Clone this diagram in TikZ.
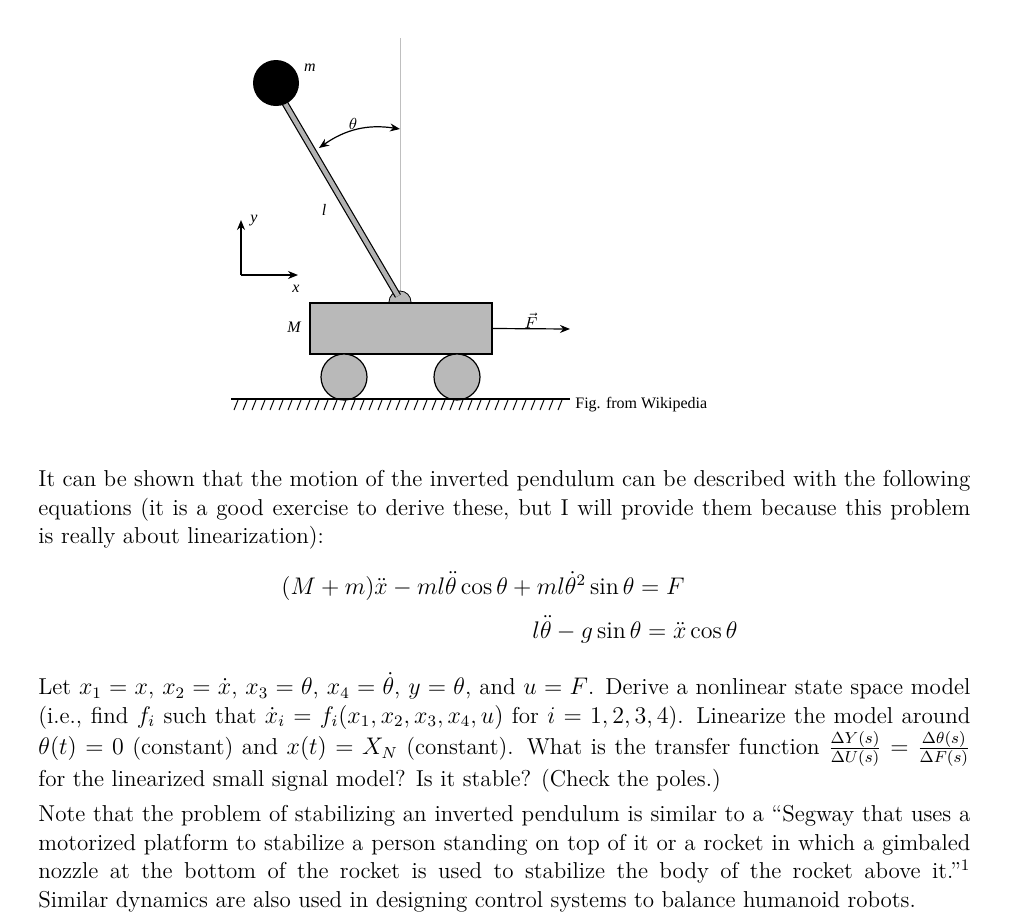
\documentclass[tikz,border=0pt]{standalone}
\usepackage{fontspec}
\usepackage{amsmath}
\newfontfamily\figfont{Liberation Serif}
\usetikzlibrary{arrows.meta}
\begin{document}
\begin{tikzpicture}[x=0.5pt,y=-0.5pt,
  lbl/.style={font=\figfont\itshape\fontsize{8}{9}\selectfont, inner sep=0},
  par/.style={anchor=north west, text width=466pt, align=justify, inner sep=0, font=\fontsize{11.5}{14.3}\selectfont},
  arr/.style={-{Stealth[length=5pt,width=4pt]}, line width=0.6pt}]
\useasboundingbox (0,0) rectangle (1024,922);
% vertical reference
\draw[gray!50, line width=0.5pt] (400,38) -- (400,297);
% pivot
\node[circle, draw, fill=gray!55, line width=0.4pt, minimum size=11pt, inner sep=0] (piv) at (400,302) {};
% rod
\coordinate (rtop) at (283,100);
\coordinate (rbot) at (398,296);
\draw[line width=3.4pt, black] (rtop) -- (rbot);
\draw[line width=2.2pt, gray!60] (rtop) -- (rbot);
% ball
\node[circle, fill=black, minimum size=23pt, inner sep=0] (ball) at (276,83) {};
% cart
\node[draw, fill=gray!55, line width=0.6pt, minimum width=91pt, minimum height=25.5pt, inner sep=0] (cart) at (401,328.5) {};
\node[circle, draw, fill=gray!55, line width=0.6pt, minimum size=23pt, inner sep=0] (w1) at (344,377) {};
\node[circle, draw, fill=gray!55, line width=0.6pt, minimum size=23pt, inner sep=0] (w2) at (457,377) {};
% ground
\draw[line width=0.6pt] (231,399) -- (570,399);
\foreach \i in {0,...,36} { \draw[line width=0.5pt] ({234+9*\i},410) -- ({238+9*\i},400); }
\node[anchor=west, font=\figfont\fontsize{8}{9}\selectfont, inner sep=0] (fig) at (575,405) {Fig. from Wikipedia};
% force
\coordinate (fend) at (570,329);
\draw[arr] (cart.east) -- (fend);
\node[lbl] (F) at (531,321) {$\vec{F}$};
\node[lbl] (M) at (294,327) {M};
% axes
\coordinate (o) at (241,275);
\coordinate (ye) at (241,220);
\coordinate (xe) at (298,275);
\draw[arr] (o) -- (ye);
\draw[arr] (o) -- (xe);
\node[lbl] (y) at (254,221) {y};
\node[lbl] (x) at (296,289) {x};
% theta arc
\coordinate (a1) at (319,148);
\coordinate (a2) at (400,129);
\draw[{Stealth[length=5pt,width=4pt]}-{Stealth[length=5pt,width=4pt]}, line width=0.6pt] (a1) to[bend left=22] (a2);
\node[lbl] (th) at (353,124) {$\theta$};
\node[lbl] (l) at (324,210) {l};
\node[lbl] (m) at (310,68) {m};
% text
\node[par] (p1) at (38,470) {It can be shown that the motion of the inverted pendulum can be described with the following equations (it is a good exercise to derive these, but I will provide them because this problem\linebreak is really about linearization):};
\node[anchor=base, inner sep=0, font=\fontsize{12}{14}\selectfont] (e1) at (483,594) {$(M+m)\ddot{x} - ml\ddot{\theta}\cos\theta + ml\dot{\theta}^2\sin\theta = F$};
\node[anchor=base, inner sep=0, font=\fontsize{12}{14}\selectfont] (e2) at (635,638) {$l\ddot{\theta} - g\sin\theta = \ddot{x}\cos\theta$};
\node[par] (p2) at (38,672) {Let $x_1=x$, $x_2=\dot{x}$, $x_3=\theta$, $x_4=\dot{\theta}$, $y=\theta$, and $u=F$. Derive a nonlinear state space model (i.e., find $f_i$ such that $\dot{x}_i=f_i(x_1,x_2,x_3,x_4,u)$ for $i=1,2,3,4$). Linearize the model around $\theta(t)=0$ (constant) and $x(t)=X_N$ (constant). What is the transfer function $\frac{\Delta Y(s)}{\Delta U(s)}=\frac{\Delta\theta(s)}{\Delta F(s)}$ for the linearized small signal model? Is it stable? (Check the poles.)};
\node[par] (p3) at (38,805) {Note that the problem of stabilizing an inverted pendulum is similar to a ``Segway that uses a\linebreak motorized platform to stabilize a person standing on top of it or a rocket in which a gimbaled\linebreak nozzle at the bottom of the rocket is used to stabilize the body of the rocket above it.''$^1$\linebreak Similar dynamics are also used in designing control systems to balance humanoid robots.};
\end{tikzpicture}
\end{document}
